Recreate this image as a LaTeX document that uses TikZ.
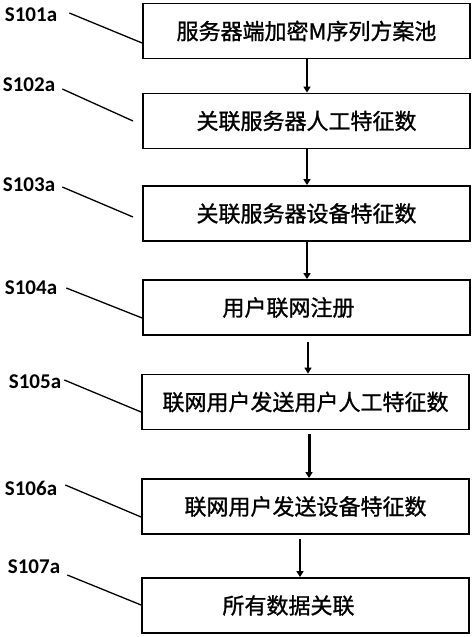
\documentclass[tikz,border=0pt]{standalone}
\usepackage{fontspec}
\newfontfamily\cjk{Noto Sans CJK SC}[FakeBold=1.2]
\newfontfamily\lab{Carlito}[BoldFont={Carlito Bold}]
\usetikzlibrary{arrows.meta}
\begin{document}
\begin{tikzpicture}[x=1pt,y=-1pt,
  stepbox/.style={draw=black,line width=1.8pt,minimum width=327pt,minimum height=55pt,inner sep=0pt,font=\cjk\fontsize{22}{25}\selectfont},
  flow/.style={line width=1.8pt,-{Triangle[length=6pt,width=7pt]}},
  steplab/.style={font=\lab\bfseries\fontsize{21}{23}\selectfont,inner sep=0pt},
  leader/.style={line width=1.3pt}]
\useasboundingbox (0,0) rectangle (474,637);
\node[stepbox] (b1) at (306.5,31) {服务器端加密M序列方案池};
\node[stepbox] (b2) at (306.5,121) {关联服务器人工特征数};
\node[stepbox] (b3) at (306.5,213.5) {关联服务器设备特征数};
\node[stepbox,label={[font=\cjk\fontsize{22}{25}\selectfont,xshift=-18pt]center:用户联网注册}] (b4) at (306.5,307.5) {};
\node[stepbox] (b5) at (305.5,402) {联网用户发送用户人工特征数};
\node[stepbox] (b6) at (305.5,506.5) {联网用户发送设备特征数};
\node[stepbox,label={[font=\cjk\fontsize{22}{25}\selectfont,xshift=-17pt]center:所有数据关联}] (b7) at (305.5,605.5) {};
\draw[flow] (b1.south -| 307,0) -- (b2.north -| 307,0);
\draw[flow] (b2.south -| 307,0) -- (b3.north -| 307,0);
\draw[flow] (b3.south -| 307,0) -- (b4.north -| 307,0);
\draw[flow,shorten <=6pt] (b4.south -| 308,0) -- (b5.north -| 308,0);
\draw[flow,line width=3pt,shorten <=4pt] (b5.south -| 309,0) -- (b6.north -| 309,0);
\draw[flow,shorten <=4pt] (b6.south -| 300,0) -- (b7.north -| 300,0);
\node[steplab] (l1) at (31,15) {S101a};
\node[steplab] (l2) at (29,85) {S102a};
\node[steplab] (l3) at (29,185) {S103a};
\node[steplab] (l4) at (31,288) {S104a};
\node[steplab] (l5) at (35,382) {S105a};
\node[steplab] (l6) at (31,488) {S106a};
\node[steplab] (l7) at (34,567) {S107a};
\coordinate (e2) at (133,121);
\coordinate (e3) at (133,217);
\draw[leader] (l1.east) ++(12,-2) -- (b1.west |- 0,43);
\draw[leader] (l2.east) ++(7,4) -- (e2);
\draw[leader] (l3.east) ++(7,2) -- (e3);
\draw[leader] (l4.east) ++(9,0) -- (b4.west |- 0,318);
\draw[leader] (l5.east) ++(3,-2) -- (b5.west |- 0,412);
\draw[leader] (l6.east) ++(8,-3) -- (b6.west |- 0,517);
\draw[leader] (l7.east) ++(7,8) -- (b7.west |- 0,605);
\end{tikzpicture}
\end{document}
